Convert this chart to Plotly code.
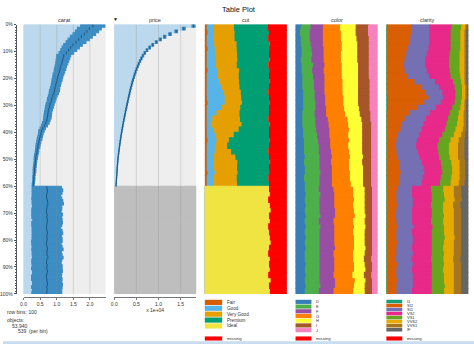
import plotly.graph_objects as go

W, H = 474, 347

# ---------------- data ----------------
n_rows = 53940
n_bins = 100
per_bin = 539

carat_ticks = [0.0, 0.5, 1.0, 1.5, 2.0]
carat_ticktext = ["0.0", "0.5", "1.0", "1.5", "2.0"]
price_ticks = [0, 5000, 10000, 15000]
price_ticktext = ["0.0", "0.5", "1.0", "1.5"]

# carat per row bin (100 bins): mean and standard deviation
carat_mean = [
    2.09, 1.98, 1.91, 1.83, 1.74, 1.66, 1.58, 1.49, 1.42, 1.36,
    1.29, 1.21, 1.19, 1.17, 1.15, 1.12, 1.10, 1.08, 1.05, 1.03,
    1.01, 0.99, 0.97, 0.95, 0.93, 0.91, 0.88, 0.85, 0.83, 0.80,
    0.78, 0.76, 0.74, 0.73, 0.72, 0.70, 0.67, 0.63, 0.58, 0.54,
    0.52, 0.50, 0.48, 0.46, 0.44, 0.43, 0.41, 0.40, 0.38, 0.37,
    0.36, 0.35, 0.34, 0.33, 0.33, 0.32, 0.31, 0.31, 0.30, 0.29,
    0.70, 0.72, 0.71, 0.69, 0.70, 0.72, 0.73, 0.71, 0.70, 0.69,
    0.71, 0.70, 0.72, 0.71, 0.70, 0.69, 0.71, 0.72, 0.70, 0.71,
    0.70, 0.69, 0.71, 0.72, 0.70, 0.71, 0.73, 0.70, 0.69, 0.71,
    0.70, 0.72, 0.71, 0.69, 0.70, 0.71, 0.72, 0.70, 0.71, 0.70,
]
carat_sd = [
    0.37, 0.36, 0.35, 0.34, 0.33, 0.32, 0.30, 0.28, 0.26, 0.24,
    0.22, 0.21, 0.20, 0.19, 0.18, 0.17, 0.17, 0.16, 0.16, 0.15,
    0.15, 0.14, 0.14, 0.14, 0.15, 0.14, 0.13, 0.13, 0.12, 0.12,
    0.12, 0.11, 0.11, 0.11, 0.11, 0.10, 0.10, 0.09, 0.08, 0.08,
    0.07, 0.07, 0.07, 0.06, 0.06, 0.06, 0.05, 0.05, 0.05, 0.05,
    0.04, 0.04, 0.04, 0.04, 0.04, 0.03, 0.03, 0.03, 0.03, 0.03,
    0.44, 0.46, 0.45, 0.43, 0.45, 0.46, 0.47, 0.44, 0.45, 0.44,
    0.46, 0.45, 0.44, 0.46, 0.45, 0.43, 0.45, 0.46, 0.44, 0.45,
    0.46, 0.44, 0.45, 0.47, 0.44, 0.45, 0.46, 0.45, 0.44, 0.45,
    0.46, 0.45, 0.44, 0.45, 0.46, 0.44, 0.45, 0.46, 0.44, 0.45,
]

# price per row bin (sorted decreasing); last 40 bins are missing
price_mean = [
    17900, 15700, 14000, 12600, 11400, 10400, 9500, 8700, 8000, 7400,
    6900, 6500, 6150, 5850, 5550, 5300, 5050, 4830, 4620, 4430,
    4250, 4080, 3920, 3760, 3610, 3470, 3330, 3190, 3060, 2930,
    2800, 2670, 2540, 2420, 2300, 2180, 2060, 1950, 1840, 1730,
    1630, 1530, 1440, 1350, 1260, 1180, 1100, 1020, 950, 880,
    820, 770, 720, 670, 630, 590, 550, 510, 470, 420,
] + [None] * 40
price_sd = [
    350, 330, 300, 280, 260, 240, 220, 200, 190, 180,
    170, 160, 150, 140, 130, 125, 120, 115, 110, 105,
    100, 95, 90, 90, 85, 80, 80, 75, 75, 70,
    70, 65, 65, 60, 60, 55, 55, 50, 50, 45,
    45, 40, 40, 38, 36, 34, 32, 30, 28, 26,
    25, 24, 22, 20, 20, 18, 18, 16, 16, 30,
] + [None] * 40

# categorical proportions (% of bin), 50 bins of 2% rows each
cut_levels = ["Fair", "Good", "Very Good", "Premium", "Ideal"]
cut_fair = [3, 4, 3, 3, 4, 3, 3, 3, 4, 3, 3, 3, 3, 3, 4, 3, 3, 3, 3, 3,
            3, 4, 3, 3, 3, 3, 3, 4, 3, 3] + [0] * 20
cut_good = [8, 8, 8, 9, 9, 10, 11, 11, 12, 13, 15, 18, 21, 22, 21, 18, 12, 7, 5, 9,
            11, 11, 11, 10, 9, 9, 9, 9, 9, 9] + [0] * 20
cut_verygood = [25, 25, 26, 27, 27, 27, 26, 26, 27, 26, 24, 22, 21, 20, 21, 23, 28, 34, 37, 30,
                22, 15, 14, 20, 26, 28, 28, 28, 28, 28] + [0] * 20
cut_premium = [41, 42, 41, 40, 40, 39, 39, 39, 37, 37, 37, 36, 34, 34, 34, 35, 36, 35, 34, 37,
               43, 50, 51, 46, 41, 39, 39, 39, 39, 39] + [0] * 20
cut_ideal = [0] * 30 + [79, 80, 78, 80, 81, 79, 80, 78, 79, 80,
                        81, 79, 78, 80, 79, 80, 78, 81, 79, 80]
cut_missing = [22, 21, 22, 20, 21, 21, 20, 22, 21, 21, 20, 21, 22, 21, 20, 21, 21, 22, 20, 21,
               21, 20, 21, 22, 21, 20, 21, 21, 22, 21,
               21, 20, 22, 20, 19, 21, 20, 22, 21, 20, 19, 21, 22, 20, 21, 20, 22, 19, 21, 20]

color_levels = ["D", "E", "F", "G", "H", "I", "J"]
color_D = [7, 6, 7, 7, 8, 8, 7, 8, 8, 9, 9, 9, 10, 10, 10, 10, 9, 9, 9, 10,
           10, 11, 11, 11, 12, 11, 12, 12, 11, 12,
           12, 13, 12, 13, 12, 13, 12, 13, 12, 13, 12, 13, 12, 12, 13, 12, 13, 12, 13, 12]
color_E = [12, 12, 11, 12, 12, 13, 13, 14, 13, 13, 14, 14, 14, 14, 15, 15, 15, 16, 16, 16,
           17, 17, 18, 18, 18, 19, 18, 19, 19, 18,
           17, 18, 18, 17, 18, 18, 17, 18, 18, 17, 18, 17, 18, 18, 17, 18, 17, 18, 18, 17]
color_F = [15, 16, 16, 15, 15, 14, 15, 14, 14, 14, 13, 13, 12, 13, 12, 13, 14, 15, 16, 16,
           15, 15, 14, 15, 15, 14, 15, 14, 15, 15,
           18, 17, 18, 18, 19, 18, 18, 17, 18, 18, 18, 19, 17, 18, 18, 18, 17, 19, 18, 18]
color_G = [21, 22, 22, 23, 22, 21, 21, 21, 22, 21, 22, 22, 22, 22, 22, 22, 23, 24, 24, 24,
           23, 23, 22, 22, 22, 22, 21, 22, 22, 23,
           24, 23, 24, 23, 23, 24, 24, 24, 23, 24, 24, 23, 24, 23, 24, 24, 23, 24, 23, 24]
color_H = [19, 18, 19, 19, 19, 20, 20, 20, 20, 20, 19, 19, 19, 18, 18, 18, 18, 17, 17, 16,
           17, 16, 17, 16, 16, 16, 17, 16, 16, 15,
           14, 14, 13, 14, 13, 13, 14, 14, 14, 13, 13, 14, 14, 13, 13, 14, 14, 13, 13, 14]
color_I = [15, 15, 15, 14, 14, 14, 14, 13, 13, 13, 14, 14, 14, 14, 14, 13, 13, 11, 11, 11,
           11, 11, 11, 11, 10, 11, 10, 10, 10, 10,
           9, 9, 9, 9, 9, 8, 9, 8, 9, 9, 9, 8, 9, 9, 9, 8, 9, 8, 9, 9]
color_J = [11, 11, 10, 10, 10, 10, 10, 10, 10, 10, 9, 9, 9, 9, 9, 9, 8, 8, 7, 7,
           7, 7, 7, 7, 7, 7, 7, 7, 7, 7,
           6, 6, 6, 6, 6, 6, 6, 6, 6, 6, 6, 6, 6, 7, 6, 6, 7, 6, 6, 6]

clarity_levels = ["I1", "SI2", "SI1", "VS2", "VS1", "VVS2", "VVS1", "IF"]
clarity_I1 = [1, 1, 1, 1, 1, 1, 1, 1, 1, 1, 1, 1, 1, 2, 2, 2, 1, 1, 1, 1,
              1, 1, 1, 1, 1, 1, 1, 1, 1, 1] + [1] * 20
clarity_SI2 = [30, 30, 29, 28, 26, 24, 22, 21, 22, 25, 34, 42, 48, 50, 45, 36, 28, 22, 19, 17,
               14, 12, 11, 12, 13, 15, 16, 17, 16, 15,
               13, 12, 12, 13, 12, 11, 12, 13, 12, 12, 13, 12, 12, 11, 13, 12, 12, 13, 12, 12]
clarity_SI1 = [22, 22, 23, 24, 25, 25, 25, 26, 27, 27, 25, 22, 20, 18, 20, 23, 25, 26, 26, 26,
               26, 25, 25, 26, 27, 28, 29, 29, 28, 28,
               18, 19, 20, 19, 19, 20, 19, 20, 19, 20, 19, 19, 20, 20, 19, 19, 20, 19, 20, 19]
clarity_VS2 = [27, 26, 26, 26, 27, 28, 29, 29, 28, 26, 22, 19, 16, 15, 17, 20, 24, 27, 28, 28,
               28, 27, 26, 25, 24, 23, 22, 22, 22, 22,
               23, 24, 23, 22, 24, 24, 23, 23, 24, 23, 23, 24, 23, 24, 23, 24, 23, 23, 23, 24]
clarity_VS1 = [12, 12, 12, 12, 12, 12, 13, 13, 12, 12, 10, 9, 8, 8, 8, 10, 11, 12, 13, 13,
               14, 14, 14, 13, 13, 13, 13, 12, 13, 13,
               15, 15, 16, 15, 14, 15, 15, 14, 15, 16, 15, 14, 15, 15, 15, 14, 15, 15, 16, 15]
clarity_VVS2 = [5, 5, 5, 5, 5, 6, 6, 6, 6, 5, 4, 4, 4, 4, 4, 5, 6, 7, 8, 9,
                9, 10, 11, 11, 10, 10, 9, 9, 10, 10,
                13, 12, 12, 12, 13, 12, 13, 12, 12, 12, 12, 13, 12, 12, 12, 13, 12, 12, 11, 12]
clarity_VVS1 = [2, 2, 2, 2, 2, 2, 2, 2, 2, 2, 2, 2, 2, 2, 2, 2, 3, 3, 3, 4,
                5, 7, 8, 8, 8, 7, 7, 7, 7, 7,
                9, 9, 9, 9, 9, 9, 9, 9, 9, 8, 9, 9, 9, 9, 9, 9, 9, 9, 9, 9]
clarity_IF = [1, 2, 2, 2, 2, 2, 2, 2, 2, 2, 2, 1, 1, 1, 2, 2, 2, 2, 2, 2,
              3, 4, 4, 4, 4, 3, 3, 3, 3, 4,
              8, 8, 7, 9, 8, 8, 8, 8, 8, 8, 8, 8, 8, 9, 8, 8, 8, 8, 8, 8]

cut_colors = ["#D55E00", "#56B4E9", "#E69F00", "#009E73", "#F0E442"]
color_colors = ["#377EB8", "#4DAF4A", "#984EA3", "#FF7F00", "#FFFF33", "#A65628", "#F781BF"]
clarity_colors = ["#1B9E77", "#D95F02", "#7570B3", "#E7298A", "#66A61E", "#E6AB02", "#A6761D", "#666666"]
MISSING_COL = "#FF0000"

# ---------------- style ----------------
FONT = "Liberation Sans, Arial, sans-serif"
TXT = "#333333"
LIGHT = "#BCD8EC"
DARK = "#3C8DC4"
MEANC = "#1E4F7C"
BG = "#EEEEEE"
NA_GRAY = "#BEBEBE"
GRID = "rgba(140,140,140,0.35)"
EDGE = 1.1   # same-colour outline so neighbouring bins join without seams

panel_left = [20.7, 111.9, 203.1, 294.4, 385.8]
panel_w = 82.5
top_px, bot_px = 22.0, 296.0
xaxis_px = 299.5

fig = go.Figure()


def ax(k):
    return ("x" if k == 0 else f"x{k+1}"), ("y" if k == 0 else f"y{k+1}")


def add_numeric(k, means, sds, ticks, xmax):
    xa, ya = ax(k)
    nb = len(means)
    step = 100.0 / nb
    ok = [i for i, m in enumerate(means) if m is not None]
    na = [i for i, m in enumerate(means) if m is None]
    yc = [(i + 0.5) * step for i in range(nb)]
    common = dict(orientation="h", width=step, xaxis=xa, yaxis=ya, hoverinfo="skip", showlegend=False)
    fig.add_trace(go.Bar(y=[yc[i] for i in ok], x=[means[i] for i in ok], base=0,
                         marker=dict(color=LIGHT, line=dict(color=LIGHT, width=EDGE)), **common))
    if na:
        fig.add_trace(go.Bar(y=[yc[i] for i in na], x=[xmax] * len(na), base=0,
                             marker=dict(color=NA_GRAY, line=dict(color=NA_GRAY, width=EDGE)), **common))
    gx, gy = [], []
    for t in ticks[1:]:
        gx += [t, t, None]
        gy += [0, 100, None]
    fig.add_trace(go.Scatter(x=gx, y=gy, mode="lines", line=dict(color=GRID, width=0.8),
                             xaxis=xa, yaxis=ya, hoverinfo="skip", showlegend=False))
    fig.add_trace(go.Bar(y=[yc[i] for i in ok], x=[2 * sds[i] for i in ok],
                         base=[means[i] - sds[i] for i in ok],
                         marker=dict(color=DARK, line=dict(color=DARK, width=EDGE)), **common))
    mx, my = [], []
    for i in ok:
        mx += [means[i], means[i], None]
        my += [i * step, (i + 1) * step, None]
    fig.add_trace(go.Scatter(x=mx, y=my, mode="lines", line=dict(color=MEANC, width=0.9),
                             xaxis=xa, yaxis=ya, hoverinfo="skip", showlegend=False))


def add_categorical(k, series, colors, missing=None):
    xa, ya = ax(k)
    allser = list(series) + ([missing] if missing is not None else [])
    allcol = list(colors) + ([MISSING_COL] if missing is not None else [])
    nb = len(allser[0])
    step = 100.0 / nb
    yc = [(i + 0.5) * step for i in range(nb)]
    tot = [sum(s[i] for s in allser) for i in range(nb)]
    left = [0.0] * nb
    for s, c in zip(allser, allcol):
        frac = [s[i] / tot[i] for i in range(nb)]
        fig.add_trace(go.Bar(orientation="h", y=yc, x=frac, base=list(left), width=step,
                             marker=dict(color=c, line=dict(color=c, width=EDGE)),
                             xaxis=xa, yaxis=ya, hoverinfo="skip", showlegend=False))
        left = [left[i] + frac[i] for i in range(nb)]


carat_max = 2.47
price_max = 18500
add_numeric(0, carat_mean, carat_sd, carat_ticks, carat_max)
add_numeric(1, price_mean, price_sd, price_ticks, price_max)
add_categorical(2, [cut_fair, cut_good, cut_verygood, cut_premium, cut_ideal], cut_colors, cut_missing)
add_categorical(3, [color_D, color_E, color_F, color_G, color_H, color_I, color_J], color_colors)
add_categorical(4, [clarity_I1, clarity_SI2, clarity_SI1, clarity_VS2, clarity_VS1,
                    clarity_VVS2, clarity_VVS1, clarity_IF], clarity_colors)

ydom = [1 - bot_px / H, 1 - top_px / H]
layout = dict(width=W, height=H, margin=dict(l=0, r=0, t=0, b=0),
              paper_bgcolor="white", plot_bgcolor=BG, barmode="overlay",
              font=dict(family=FONT, size=5, color=TXT), showlegend=False)

tickfont = dict(family=FONT, size=5, color=TXT)
for k in range(5):
    xd = [panel_left[k] / W, (panel_left[k] + panel_w) / W]
    xname = "xaxis" if k == 0 else f"xaxis{k+1}"
    yname = "yaxis" if k == 0 else f"yaxis{k+1}"
    xa, ya = ax(k)
    if k == 0:
        xcfg = dict(range=[0, carat_max], tickvals=carat_ticks, ticktext=carat_ticktext)
    elif k == 1:
        xcfg = dict(range=[0, price_max], tickvals=price_ticks, ticktext=price_ticktext,
                    title=dict(text="x 1e+04", font=dict(family=FONT, size=5, color=TXT), standoff=1))
    else:
        xcfg = dict(range=[0, 1], visible=False)
    if k < 2:
        xcfg.update(showline=True, linecolor="#777777", linewidth=0.6, ticks="outside", ticklen=2,
                    tickwidth=0.6, tickcolor="#777777", tickfont=tickfont, showgrid=False, zeroline=False)
    layout[xname] = dict(domain=xd, anchor="free", position=1 - xaxis_px / H, fixedrange=True, **xcfg)
    layout[yname] = dict(domain=ydom, range=[100, 0], visible=False, anchor=xa, fixedrange=True)

layout["yaxis6"] = dict(overlaying="y", anchor="free", position=12.7 / W, side="left",
                        range=[100, 0], showline=True, linecolor="#555555", linewidth=0.6,
                        tickvals=list(range(0, 101, 10)),
                        ticktext=[f"{v}%" for v in range(0, 101, 10)],
                        ticks="outside", ticklen=2, tickwidth=0.6, tickcolor="#555555",
                        tickfont=tickfont, showgrid=False, zeroline=False,
                        minor=dict(tickmode="array", tickvals=list(range(0, 101)), ticks="outside",
                                   ticklen=1, tickwidth=0.4, tickcolor="#555555"))
fig.add_trace(go.Scatter(x=[None], y=[None], xaxis="x", yaxis="y6", hoverinfo="skip", showlegend=False))

annotations = []
shapes = []


def text(x, y, s, size=5, xanchor="left", color=TXT):
    annotations.append(dict(x=x / W, y=1 - y / H, xref="paper", yref="paper", text=s, showarrow=False,
                            xanchor=xanchor, yanchor="middle", font=dict(family=FONT, size=size, color=color)))


text(237, 7, "Table Plot", size=7.5, xanchor="center", color="#111111")
headers = ["carat", "price", "cut", "color", "clarity"]
for k, h in enumerate(headers):
    text(panel_left[k] + panel_w / 2, 16.8, h, size=5.5, xanchor="center")
text(113.5, 16.5, "▼", size=5, xanchor="center", color="#111111")

text(2, 314.5, f"row bins: {n_bins}")
text(2, 322.5, "objects:")
text(6.7, 328.3, f"{n_rows:,}")
text(12.7, 333.8, f"{per_bin}  (per bin)")


def legend(k, levels, colors, pitch, sw_w):
    x0 = panel_left[k]
    top = 302.0
    for j, (lv, c) in enumerate(zip(levels, colors)):
        y0 = top + j * pitch
        shapes.append(dict(type="rect", xref="paper", yref="paper", x0=x0 / W, x1=(x0 + sw_w) / W,
                           y0=1 - (y0 + pitch * 0.88) / H, y1=1 - y0 / H,
                           fillcolor=c, line=dict(width=0)))
        text(x0 + sw_w + 3, y0 + pitch * 0.44, lv, size=4.6 if pitch > 5 else 4)
    shapes.append(dict(type="rect", xref="paper", yref="paper", x0=x0 / W, x1=(x0 + sw_w) / W,
                       y0=1 - 343.5 / H, y1=1 - 339.3 / H, fillcolor=MISSING_COL, line=dict(width=0)))
    text(x0 + sw_w + 3, 341.4, "missing", size=4.3)


legend(2, cut_levels, cut_colors, 6.0, 17.5)
legend(3, color_levels, color_colors, 4.8, 16.0)
legend(4, clarity_levels, clarity_colors, 4.1, 16.0)

shapes.append(dict(type="rect", xref="paper", yref="paper", x0=0, x1=1, y0=0, y1=2.8 / H,
                   fillcolor="#C8DDF0", line=dict(width=0)))

layout["annotations"] = annotations
layout["shapes"] = shapes
fig.update_layout(**layout)
fig.write_html("out.html")
